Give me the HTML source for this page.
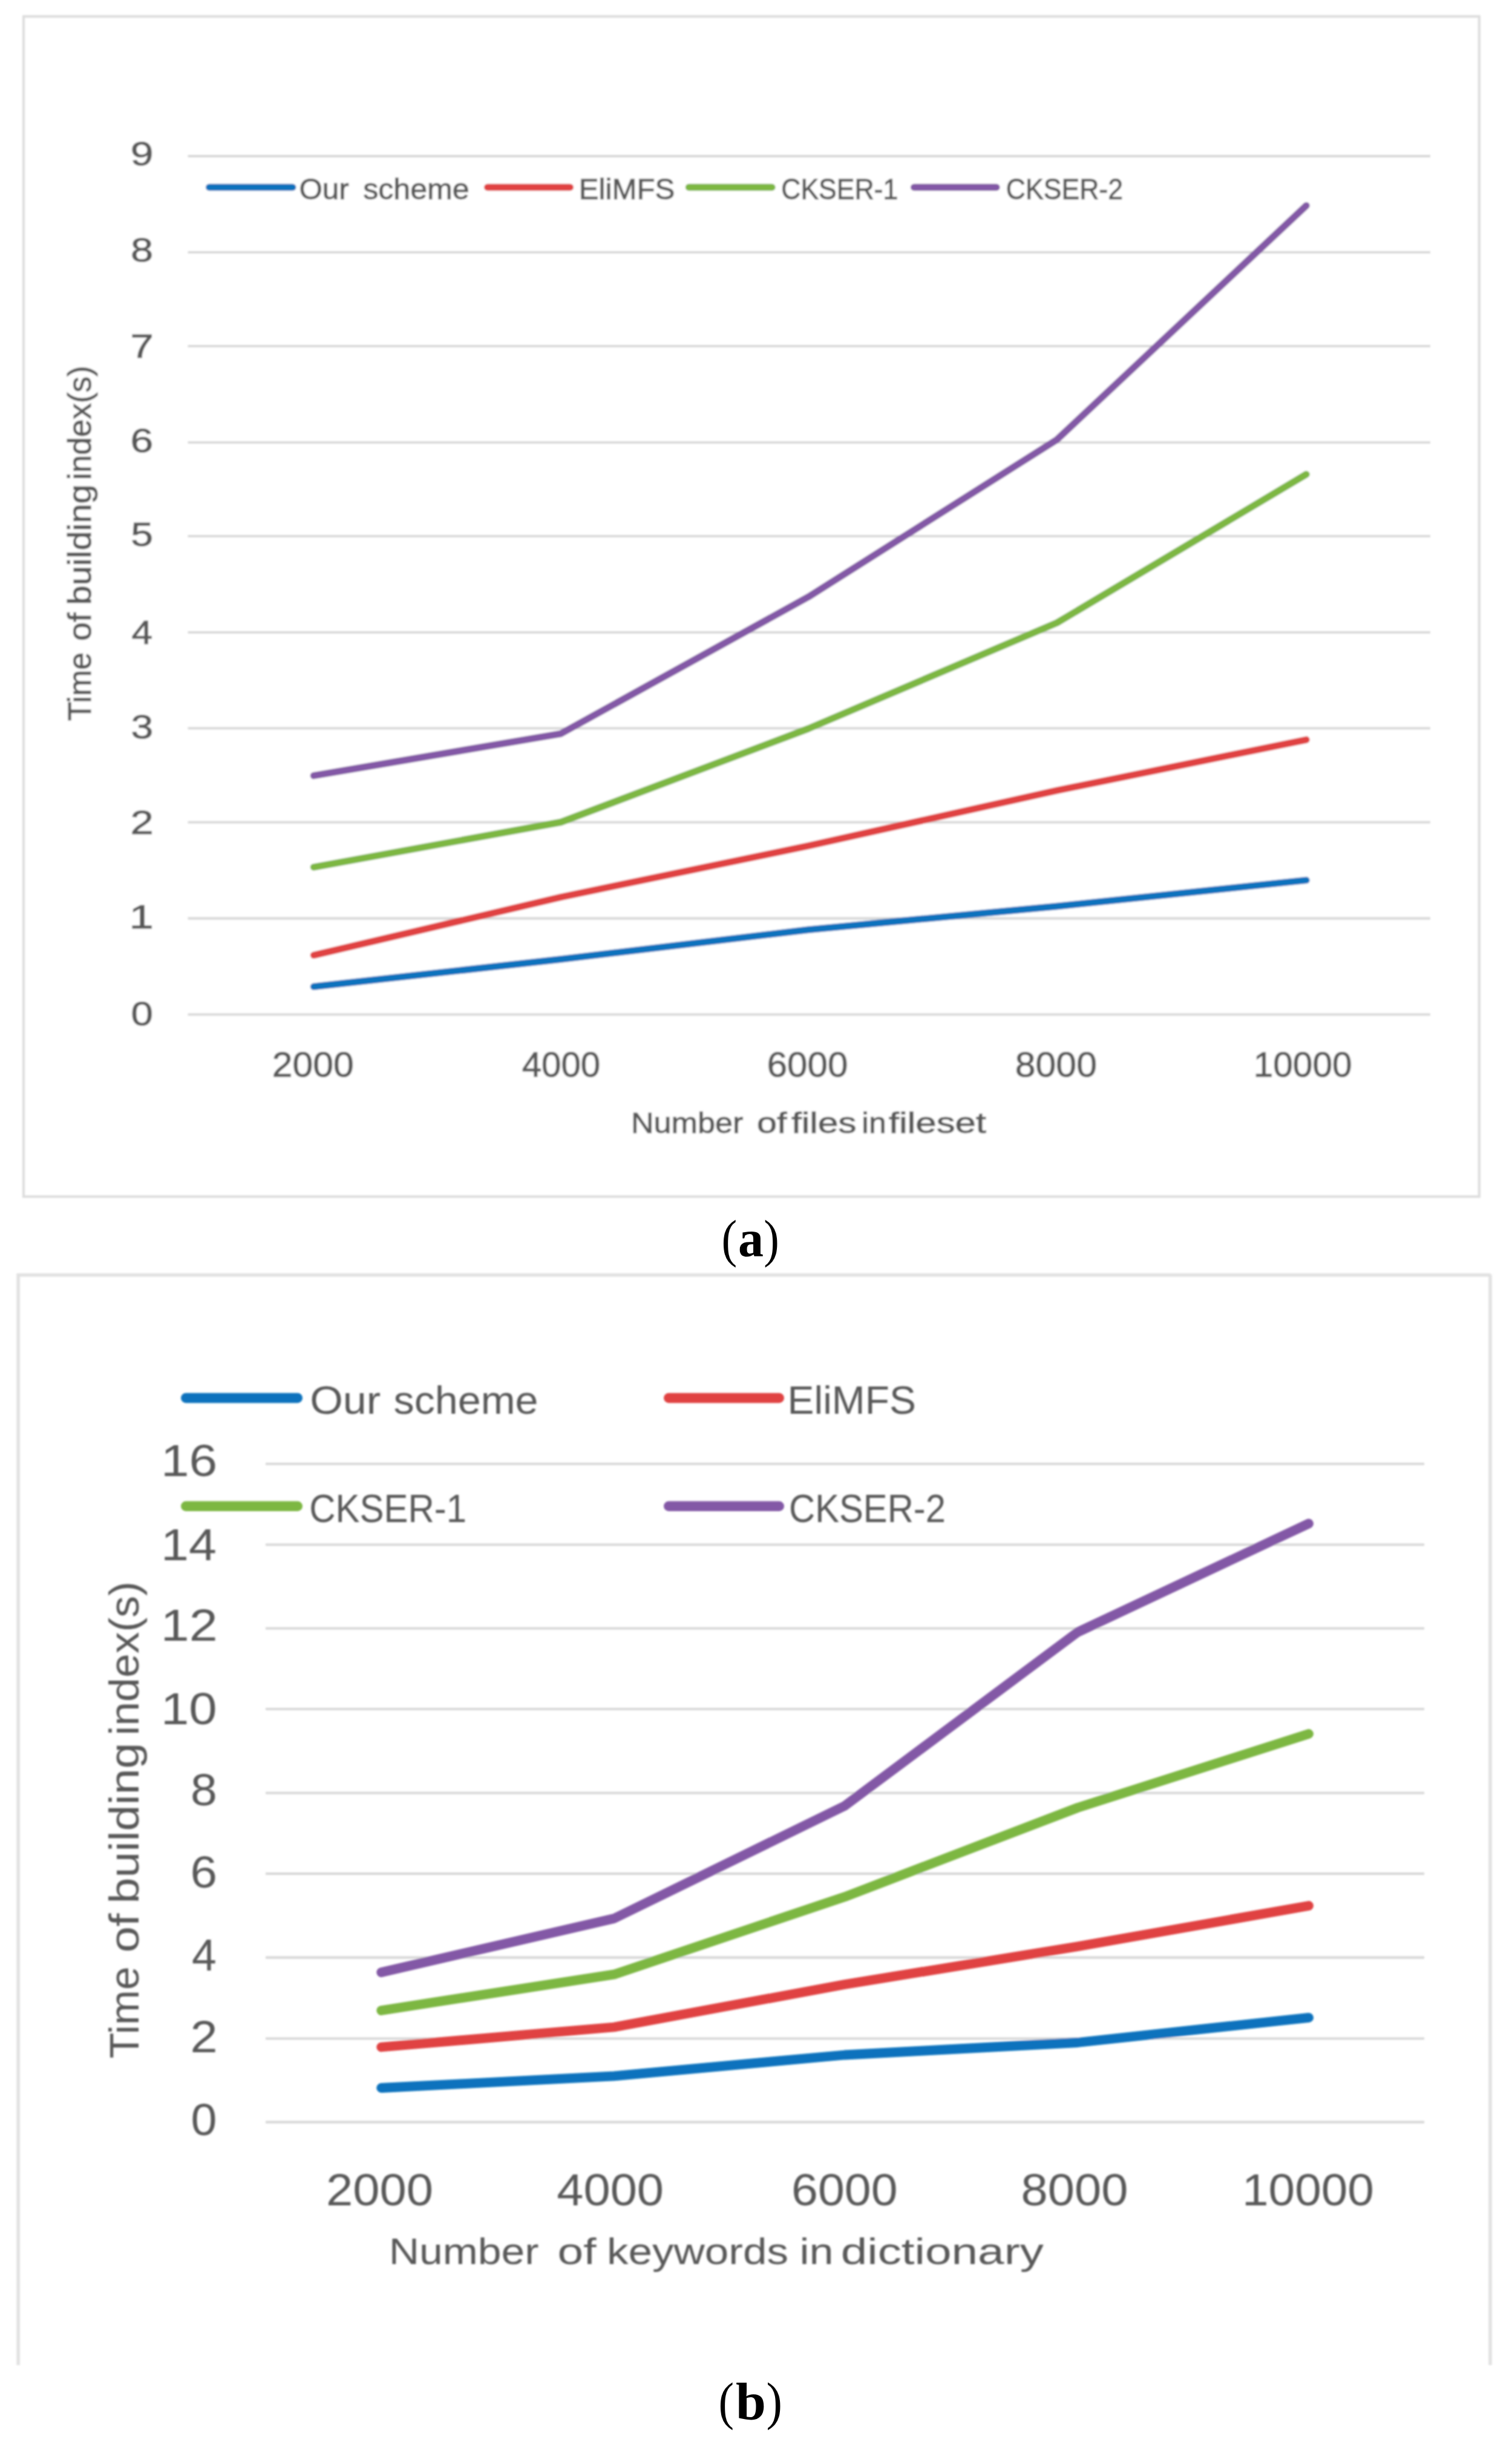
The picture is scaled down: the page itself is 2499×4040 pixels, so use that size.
<!DOCTYPE html>
<html lang="en">
<head>
<meta charset="utf-8">
<title>Figure: time of building index</title>
<style>
html,body{margin:0;padding:0;background:#fff;}
body{width:2499px;height:4040px;overflow:hidden;}
svg{display:block;}
text{font-family:"Liberation Sans","DejaVu Sans",sans-serif;white-space:pre;}
text.sf{font-family:"Liberation Serif","DejaVu Serif",serif;}
</style>
</head>
<body>
<svg width="2499" height="4040" viewBox="0 0 2499 4040">
<defs><filter id="soft" x="-2%" y="-2%" width="104%" height="104%"><feGaussianBlur stdDeviation="1.4"/></filter><filter id="soft2" x="-2%" y="-2%" width="104%" height="104%"><feGaussianBlur stdDeviation="1.7"/></filter></defs>
<rect x="0" y="0" width="2499" height="4040" fill="#ffffff"/>
<g id="chart-a" filter="url(#soft)">
<rect x="39" y="27.2" width="2405.8" height="1950.0" fill="#fff" stroke="#dddddd" stroke-width="4.2"/>
<line x1="310.5" y1="1676.4" x2="2364" y2="1676.4" stroke="#d6d6d6" stroke-width="3.8" stroke-linecap="butt"/>
<line x1="310.5" y1="1517.5" x2="2364" y2="1517.5" stroke="#d6d6d6" stroke-width="3.8" stroke-linecap="butt"/>
<line x1="310.5" y1="1358.7" x2="2364" y2="1358.7" stroke="#d6d6d6" stroke-width="3.8" stroke-linecap="butt"/>
<line x1="310.5" y1="1203.3" x2="2364" y2="1203.3" stroke="#d6d6d6" stroke-width="3.8" stroke-linecap="butt"/>
<line x1="310.5" y1="1044.8" x2="2364" y2="1044.8" stroke="#d6d6d6" stroke-width="3.8" stroke-linecap="butt"/>
<line x1="310.5" y1="885.8" x2="2364" y2="885.8" stroke="#d6d6d6" stroke-width="3.8" stroke-linecap="butt"/>
<line x1="310.5" y1="731.1" x2="2364" y2="731.1" stroke="#d6d6d6" stroke-width="3.8" stroke-linecap="butt"/>
<line x1="310.5" y1="571.9" x2="2364" y2="571.9" stroke="#d6d6d6" stroke-width="3.8" stroke-linecap="butt"/>
<line x1="310.5" y1="416.8" x2="2364" y2="416.8" stroke="#d6d6d6" stroke-width="3.8" stroke-linecap="butt"/>
<line x1="310.5" y1="258.0" x2="2364" y2="258.0" stroke="#d6d6d6" stroke-width="3.8" stroke-linecap="butt"/>
<text y="1694.3" font-size="56" fill="#585858" stroke="#585858" stroke-width="1.0"><tspan x="216.44" textLength="36.46" lengthAdjust="spacingAndGlyphs">0</tspan></text>
<text y="1533.5" font-size="56" fill="#585858" stroke="#585858" stroke-width="1.0"><tspan x="213.48" textLength="40.42" lengthAdjust="spacingAndGlyphs">1</tspan></text>
<text y="1378.4" font-size="56" fill="#585858" stroke="#585858" stroke-width="1.0"><tspan x="215.56" textLength="38.3" lengthAdjust="spacingAndGlyphs">2</tspan></text>
<text y="1219.6" font-size="56" fill="#585858" stroke="#585858" stroke-width="1.0"><tspan x="216.49" textLength="36.76" lengthAdjust="spacingAndGlyphs">3</tspan></text>
<text y="1064.2" font-size="56" fill="#585858" stroke="#585858" stroke-width="1.0"><tspan x="217.63" textLength="34.58" lengthAdjust="spacingAndGlyphs">4</tspan></text>
<text y="901.9" font-size="56" fill="#585858" stroke="#585858" stroke-width="1.0"><tspan x="216.36" textLength="36.76" lengthAdjust="spacingAndGlyphs">5</tspan></text>
<text y="747.1" font-size="56" fill="#585858" stroke="#585858" stroke-width="1.0"><tspan x="215.61" textLength="37.72" lengthAdjust="spacingAndGlyphs">6</tspan></text>
<text y="591.3" font-size="56" fill="#585858" stroke="#585858" stroke-width="1.0"><tspan x="215.48" textLength="38.38" lengthAdjust="spacingAndGlyphs">7</tspan></text>
<text y="432.3" font-size="56" fill="#585858" stroke="#585858" stroke-width="1.0"><tspan x="216.13" textLength="37.16" lengthAdjust="spacingAndGlyphs">8</tspan></text>
<text y="273.4" font-size="56" fill="#585858" stroke="#585858" stroke-width="1.0"><tspan x="215.88" textLength="37.72" lengthAdjust="spacingAndGlyphs">9</tspan></text>
<polyline points="518.5,1630.3 927,1585 1336,1536.2 1747,1497.5 2159,1454.4" fill="none" stroke="#0872bd" stroke-width="11.5" stroke-linecap="round" stroke-linejoin="round"/>
<polyline points="518.5,1578.3 927,1482.4 1336,1397.6 1747,1306.2 2159,1222.3" fill="none" stroke="#e04242" stroke-width="11.5" stroke-linecap="round" stroke-linejoin="round"/>
<polyline points="518.5,1432.8 927,1358.5 1336,1204 1747,1029 2159,783.8" fill="none" stroke="#7db742" stroke-width="11.5" stroke-linecap="round" stroke-linejoin="round"/>
<polyline points="518.5,1281.7 927,1212.3 1336,986.3 1747,726.3 2159,339.8" fill="none" stroke="#8358a6" stroke-width="11.5" stroke-linecap="round" stroke-linejoin="round"/>
<line x1="345.75" y1="309.5" x2="483.65" y2="309.5" stroke="#0872bd" stroke-width="11.5" stroke-linecap="round"/>
<line x1="805.75" y1="309.5" x2="942.25" y2="309.5" stroke="#e04242" stroke-width="11.5" stroke-linecap="round"/>
<line x1="1138.55" y1="309.5" x2="1275.85" y2="309.5" stroke="#7db742" stroke-width="11.5" stroke-linecap="round"/>
<line x1="1510.75" y1="309.5" x2="1646.85" y2="309.5" stroke="#8358a6" stroke-width="11.5" stroke-linecap="round"/>
<text y="328.8" font-size="49" fill="#585858" stroke="#585858" stroke-width="1.0"><tspan x="494.48" textLength="82.31" lengthAdjust="spacingAndGlyphs">Our</tspan> <tspan x="600.25" textLength="175.48" lengthAdjust="spacingAndGlyphs">scheme</tspan></text>
<text y="328.8" font-size="49" fill="#585858" stroke="#585858" stroke-width="1.0"><tspan x="956.77" textLength="158.46" lengthAdjust="spacingAndGlyphs">EliMFS</tspan></text>
<text y="328.8" font-size="49" fill="#585858" stroke="#585858" stroke-width="1.0"><tspan x="1291.28" textLength="192.88" lengthAdjust="spacingAndGlyphs">CKSER-1</tspan></text>
<text y="328.8" font-size="49" fill="#585858" stroke="#585858" stroke-width="1.0"><tspan x="1662.77" textLength="193.18" lengthAdjust="spacingAndGlyphs">CKSER-2</tspan></text>
<text y="1778.5" font-size="57" fill="#585858" stroke="#585858" stroke-width="1.0"><tspan x="449.77" textLength="134.98" lengthAdjust="spacingAndGlyphs">2000</tspan></text>
<text y="1778.5" font-size="57" fill="#585858" stroke="#585858" stroke-width="1.0"><tspan x="862.72" textLength="129.53" lengthAdjust="spacingAndGlyphs">4000</tspan></text>
<text y="1778.5" font-size="57" fill="#585858" stroke="#585858" stroke-width="1.0"><tspan x="1267.7" textLength="133.62" lengthAdjust="spacingAndGlyphs">6000</tspan></text>
<text y="1778.5" font-size="57" fill="#585858" stroke="#585858" stroke-width="1.0"><tspan x="1677.79" textLength="135.16" lengthAdjust="spacingAndGlyphs">8000</tspan></text>
<text y="1778.5" font-size="57" fill="#585858" stroke="#585858" stroke-width="1.0"><tspan x="2071.75" textLength="162.76" lengthAdjust="spacingAndGlyphs">10000</tspan></text>
<text y="1872" font-size="48" fill="#585858" stroke="#585858" stroke-width="1.0"><tspan x="1042.92" textLength="185.49" lengthAdjust="spacingAndGlyphs">Number</tspan> <tspan x="1251.01" textLength="49.47" lengthAdjust="spacingAndGlyphs">of</tspan> <tspan x="1307.95" textLength="107.65" lengthAdjust="spacingAndGlyphs">files</tspan> <tspan x="1424.38" textLength="40.36" lengthAdjust="spacingAndGlyphs">in</tspan> <tspan x="1468.74" textLength="161.22" lengthAdjust="spacingAndGlyphs">fileset</tspan></text>
<text y="150.3" font-size="54" fill="#585858" stroke="#585858" stroke-width="1.0" transform="rotate(-90)"><tspan x="-1191.34" textLength="113.33" lengthAdjust="spacingAndGlyphs">Time</tspan> <tspan x="-1059.05" textLength="46.74" lengthAdjust="spacingAndGlyphs">of</tspan> <tspan x="-999.5" textLength="199.21" lengthAdjust="spacingAndGlyphs">building</tspan> <tspan x="-793.1" textLength="188.67" lengthAdjust="spacingAndGlyphs">index(s)</tspan></text>
</g>
<text y="2076.2" font-size="86" fill="#000" class="sf"><tspan x="1192.48" textLength="25.69" lengthAdjust="spacingAndGlyphs">(</tspan><tspan x="1219.91" textLength="42.05" lengthAdjust="spacingAndGlyphs" font-weight="bold">a</tspan><tspan x="1262.24" textLength="25.56" lengthAdjust="spacingAndGlyphs">)</tspan></text>
<g id="chart-b" filter="url(#soft2)">
<path d="M30.1,3908 V2106.8 H2461 Q2463,2106.8 2463,2108.8 V3908" fill="none" stroke="#e1e1e1" stroke-width="5.5"/>
<line x1="439" y1="3506.5" x2="2354" y2="3506.5" stroke="#d6d6d6" stroke-width="3.8" stroke-linecap="butt"/>
<line x1="439" y1="3368.3" x2="2354" y2="3368.3" stroke="#d6d6d6" stroke-width="3.8" stroke-linecap="butt"/>
<line x1="439" y1="3234.5" x2="2354" y2="3234.5" stroke="#d6d6d6" stroke-width="3.8" stroke-linecap="butt"/>
<line x1="439" y1="3096" x2="2354" y2="3096" stroke="#d6d6d6" stroke-width="3.8" stroke-linecap="butt"/>
<line x1="439" y1="2962.6" x2="2354" y2="2962.6" stroke="#d6d6d6" stroke-width="3.8" stroke-linecap="butt"/>
<line x1="439" y1="2823.9" x2="2354" y2="2823.9" stroke="#d6d6d6" stroke-width="3.8" stroke-linecap="butt"/>
<line x1="439" y1="2690.6" x2="2354" y2="2690.6" stroke="#d6d6d6" stroke-width="3.8" stroke-linecap="butt"/>
<line x1="439" y1="2552.4" x2="2354" y2="2552.4" stroke="#d6d6d6" stroke-width="3.8" stroke-linecap="butt"/>
<line x1="439" y1="2418.9" x2="2354" y2="2418.9" stroke="#d6d6d6" stroke-width="3.8" stroke-linecap="butt"/>
<text y="3528.3" font-size="75" fill="#585858"><tspan x="315.49" textLength="42.96" lengthAdjust="spacingAndGlyphs">0</tspan></text>
<text y="3391.3" font-size="75" fill="#585858"><tspan x="314.44" textLength="45.13" lengthAdjust="spacingAndGlyphs">2</tspan></text>
<text y="3256.3" font-size="75" fill="#585858"><tspan x="316.89" textLength="40.75" lengthAdjust="spacingAndGlyphs">4</tspan></text>
<text y="3119.3" font-size="75" fill="#585858"><tspan x="314.5" textLength="44.44" lengthAdjust="spacingAndGlyphs">6</tspan></text>
<text y="2982.8" font-size="75" fill="#585858"><tspan x="315.11" textLength="43.78" lengthAdjust="spacingAndGlyphs">8</tspan></text>
<text y="2849.3" font-size="75" fill="#585858"><tspan x="265.96" textLength="92.73" lengthAdjust="spacingAndGlyphs">10</tspan></text>
<text y="2711.3" font-size="75" fill="#585858"><tspan x="265.89" textLength="93.86" lengthAdjust="spacingAndGlyphs">12</tspan></text>
<text y="2577.7" font-size="75" fill="#585858"><tspan x="266.02" textLength="91.9" lengthAdjust="spacingAndGlyphs">14</tspan></text>
<text y="2439.3" font-size="75" fill="#585858"><tspan x="265.93" textLength="93.2" lengthAdjust="spacingAndGlyphs">16</tspan></text>
<polyline points="630.2,3450 1015,3430.3 1396,3395.5 1781,3375 2163,3333.8" fill="none" stroke="#0872bd" stroke-width="15.8" stroke-linecap="round" stroke-linejoin="round"/>
<polyline points="630.2,3382.5 1015,3349.5 1396,3279 1781,3216.3 2163,3149" fill="none" stroke="#e04242" stroke-width="15.8" stroke-linecap="round" stroke-linejoin="round"/>
<polyline points="630.2,3322 1015,3262.4 1396,3134.3 1781,2987 2163,2865" fill="none" stroke="#7db742" stroke-width="15.8" stroke-linecap="round" stroke-linejoin="round"/>
<polyline points="630.2,3259 1015,3170 1396,2984 1781,2697 2163,2517.5" fill="none" stroke="#8358a6" stroke-width="15.8" stroke-linecap="round" stroke-linejoin="round"/>
<line x1="307.2" y1="2310" x2="491.8" y2="2310" stroke="#0872bd" stroke-width="16.4" stroke-linecap="round"/>
<line x1="1105.2" y1="2310" x2="1287.8" y2="2310" stroke="#e04242" stroke-width="16.4" stroke-linecap="round"/>
<line x1="307.2" y1="2488.8" x2="491.8" y2="2488.8" stroke="#7db742" stroke-width="16.4" stroke-linecap="round"/>
<line x1="1105.2" y1="2488.8" x2="1287.8" y2="2488.8" stroke="#8358a6" stroke-width="16.4" stroke-linecap="round"/>
<text y="2336.2" font-size="65" fill="#585858"><tspan x="512.2" textLength="116.92" lengthAdjust="spacingAndGlyphs">Our</tspan> <tspan x="650.56" textLength="238.98" lengthAdjust="spacingAndGlyphs">scheme</tspan></text>
<text y="2336.2" font-size="65" fill="#585858"><tspan x="1301.6" textLength="212.38" lengthAdjust="spacingAndGlyphs">EliMFS</tspan></text>
<text y="2514.8" font-size="65" fill="#585858"><tspan x="511.3" textLength="259.7" lengthAdjust="spacingAndGlyphs">CKSER-1</tspan></text>
<text y="2514.8" font-size="65" fill="#585858"><tspan x="1304.01" textLength="259.01" lengthAdjust="spacingAndGlyphs">CKSER-2</tspan></text>
<text y="3644" font-size="74" fill="#585858"><tspan x="539.02" textLength="177.05" lengthAdjust="spacingAndGlyphs">2000</tspan></text>
<text y="3644" font-size="74" fill="#585858"><tspan x="920.25" textLength="176.82" lengthAdjust="spacingAndGlyphs">4000</tspan></text>
<text y="3644" font-size="74" fill="#585858"><tspan x="1308.05" textLength="175.6" lengthAdjust="spacingAndGlyphs">6000</tspan></text>
<text y="3644" font-size="74" fill="#585858"><tspan x="1687.58" textLength="176.99" lengthAdjust="spacingAndGlyphs">8000</tspan></text>
<text y="3644" font-size="74" fill="#585858"><tspan x="2053.04" textLength="217.92" lengthAdjust="spacingAndGlyphs">10000</tspan></text>
<text y="3740.5" font-size="62" fill="#585858"><tspan x="642.79" textLength="247.6" lengthAdjust="spacingAndGlyphs">Number</tspan> <tspan x="921.58" textLength="63.86" lengthAdjust="spacingAndGlyphs">of</tspan> <tspan x="1003.04" textLength="299.89" lengthAdjust="spacingAndGlyphs">keywords</tspan> <tspan x="1321.54" textLength="56.09" lengthAdjust="spacingAndGlyphs">in</tspan> <tspan x="1389.71" textLength="335.23" lengthAdjust="spacingAndGlyphs">dictionary</tspan></text>
<text y="229.4" font-size="69" fill="#585858" transform="rotate(-90)"><tspan x="-3401.33" textLength="151.89" lengthAdjust="spacingAndGlyphs">Time</tspan> <tspan x="-3226.36" textLength="64.7" lengthAdjust="spacingAndGlyphs">of</tspan> <tspan x="-3145.54" textLength="266.0" lengthAdjust="spacingAndGlyphs">building</tspan> <tspan x="-2867.62" textLength="254.54" lengthAdjust="spacingAndGlyphs">index(s)</tspan></text>
</g>
<text y="3996.5" font-size="86" fill="#000" class="sf"><tspan x="1187.6" textLength="25.56" lengthAdjust="spacingAndGlyphs">(</tspan><tspan x="1215.92" textLength="49.99" lengthAdjust="spacingAndGlyphs" font-weight="bold">b</tspan><tspan x="1266.46" textLength="26.46" lengthAdjust="spacingAndGlyphs">)</tspan></text>
</svg>
</body>
</html>
